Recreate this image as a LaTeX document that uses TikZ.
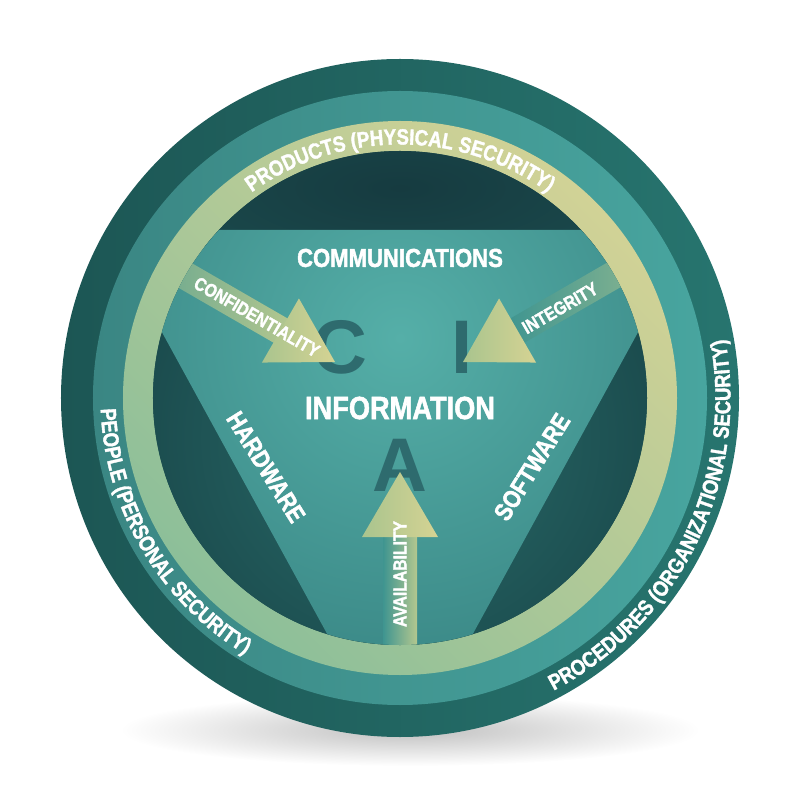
\documentclass[tikz,border=0pt]{standalone}
\usepackage{fontspec}
\setmainfont{Liberation Sans}
\newfontfamily\condbold[FakeStretch=0.85,FakeBold=1.6]{Liberation Sans Bold}
\usepackage{tikz}
\usetikzlibrary{decorations.text}

\definecolor{outerdark}{HTML}{1C5654}
\definecolor{outerlight}{HTML}{27756F}
\definecolor{middark}{HTML}{3A8683}
\definecolor{midlight}{HTML}{48A59F}
\definecolor{ringgreen}{HTML}{8CBF99}
\definecolor{ringyellow}{HTML}{D1D296}
\definecolor{paneldark}{HTML}{1B4C4E}
\definecolor{panellight}{HTML}{2A6C6A}
\definecolor{topdark}{HTML}{163B40}
\definecolor{triinner}{HTML}{55AFA8}
\definecolor{triouter}{HTML}{3B8987}
\definecolor{letterteal}{HTML}{2E6B6E}
\definecolor{shaftteal}{HTML}{3F9590}
\definecolor{shaftgreen}{HTML}{B3C78F}
\definecolor{headgreen}{HTML}{A9C48E}
\definecolor{headyellow}{HTML}{D5D393}

\newcommand{\ringfont}{\condbold\fontsize{22}{22}\selectfont}

\begin{document}
\begin{tikzpicture}[x=1pt,y=1pt,
  ringtext/.style={decorate,decoration={text along path,text align=center,text color=white}},
  bigletter/.style={inner sep=0pt,text=letterteal,font=\bfseries\fontsize{76}{76}\selectfont},
  panellabel/.style={inner sep=0pt,text=white,font=\condbold\fontsize{25}{25}\selectfont},
  arrowlabel/.style={inner sep=0pt,text=white,font=\condbold\fontsize{18.5}{18.5}\selectfont}]
\useasboundingbox (-400,-402) rectangle (400,398);

% shadow under the disk
\shade[inner color=black!25,outer color=white] (10,-332) ellipse[x radius=290,y radius=36];

% rings
\shade[left color=outerdark,right color=outerlight] (0,0) circle[radius=339];
\shade[left color=middark,right color=midlight] (0,0) circle[radius=307];
\shade[left color=ringgreen,right color=ringyellow,shading angle=135] (0,0) circle[radius=277];
\fill[paneldark] (0,0) circle[radius=247];

\begin{scope}
\clip (0,0) circle[radius=247];
\shade[inner color=panellight,outer color=paneldark] (0,-40) circle[radius=260];
\shade[inner color=topdark,outer color=paneldark!80!topdark] (0,210) ellipse[x radius=260,y radius=90];

% the triangle
\begin{scope}
\clip (-294,168) -- (294,168) -- (0,-369) -- cycle;
\shade[inner color=triinner,outer color=triouter] (0,60) circle[radius=330];
\end{scope}

% C I A
\node[bigletter] (cletter) at (-60,51) {C};
\node[bigletter] (iletter) at (62,51) {I};
\node[bigletter] (aletter) at (0,-67) {A};

% confidentiality
\begin{scope}[shift={(-65,36)},rotate=-30]
\shade[left color=shaftteal,right color=shaftgreen] (-300,-14) rectangle (-60,14);
\shade[left color=headgreen,right color=headyellow] (0,0) -- (-63,37) -- (-63,-37) -- cycle;
\end{scope}
% integrity
\begin{scope}[shift={(63,36)},rotate=210]
\shade[left color=shaftteal,right color=shaftgreen] (-300,-14) rectangle (-60,14);
\shade[left color=headgreen,right color=headyellow] (0,0) -- (-63,37) -- (-63,-37) -- cycle;
\end{scope}
% availability
\begin{scope}[shift={(0,-74)},rotate=90]
\shade[left color=shaftteal,right color=shaftgreen] (-300,-17) rectangle (-62,17);
\shade[left color=headgreen,right color=headyellow] (0,0) -- (-65,38) -- (-65,-38) -- cycle;
\end{scope}

\node[arrowlabel,rotate=-30] (conf) at (-143,81) {CONFIDENTIALITY};
\node[arrowlabel,rotate=30] (integ) at (160,90) {INTEGRITY};
\node[arrowlabel,rotate=90] (avail) at (0,-176) {AVAILABILITY};

\node[panellabel,font=\condbold\fontsize{26}{26}\selectfont] (comm) at (0,140) {COMMUNICATIONS};
\node[panellabel,font=\condbold\fontsize{32}{32}\selectfont] (info) at (0,-10) {INFORMATION};
\node[panellabel,rotate=-58] (hard) at (-134,-69) {HARDWARE};
\node[panellabel,rotate=58] (soft) at (132,-69) {SOFTWARE};
\end{scope}

% texts on the rings
\path[ringtext,decoration={text={|\ringfont|PRODUCTS (PHYSICAL SECURITY)}}]
  (135:253.5) arc[start angle=135,end angle=45,radius=253.5];
\path[ringtext,decoration={text={|\ringfont|PEOPLE (PERSONAL SECURITY)}}]
  (165:299.5) arc[start angle=165,end angle=256,radius=299.5];
\path[ringtext,decoration={text={|\ringfont|PROCEDURES (ORGANIZATIONAL SECURITY)}}]
  (-74:330.5) arc[start angle=-74,end angle=22,radius=330.5];

\end{tikzpicture}
\end{document}
